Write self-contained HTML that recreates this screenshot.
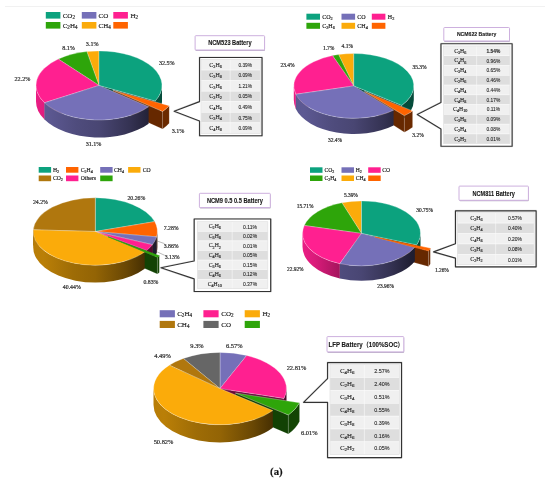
<!DOCTYPE html>
<html><head><meta charset="utf-8"><title>Gas composition pie charts</title>
<style>
html,body{margin:0;padding:0;background:#fff;}
body{width:550px;height:484px;overflow:hidden;}
svg{display:block;}
text{text-anchor:middle;}
.s{font-family:'Liberation Serif',serif;stroke:#333;stroke-width:0.2px;}
.n{font-family:'Liberation Sans','Noto Sans CJK SC',sans-serif;stroke:#333;stroke-width:0.1px;}
</style></head><body>
<svg width="550" height="484" viewBox="0 0 550 484">
<defs>
<linearGradient id="g1" gradientUnits="userSpaceOnUse" x1="36.0" y1="0" x2="162.0" y2="0"><stop offset="0" stop-color="#b87d07"/><stop offset="0.08" stop-color="#ba7f07"/><stop offset="0.32" stop-color="#9e6c06"/><stop offset="0.5" stop-color="#936405"/><stop offset="0.75" stop-color="#694704"/><stop offset="0.92" stop-color="#412c02"/><stop offset="1" stop-color="#382602"/></linearGradient>
<linearGradient id="g2" gradientUnits="userSpaceOnUse" x1="36.0" y1="0" x2="162.0" y2="0"><stop offset="0" stop-color="#248207"/><stop offset="0.08" stop-color="#248408"/><stop offset="0.32" stop-color="#1f7006"/><stop offset="0.5" stop-color="#1c6706"/><stop offset="0.75" stop-color="#144a04"/><stop offset="0.92" stop-color="#0c2e02"/><stop offset="1" stop-color="#0b2702"/></linearGradient>
<linearGradient id="g4" gradientUnits="userSpaceOnUse" x1="36.0" y1="0" x2="162.0" y2="0"><stop offset="0" stop-color="#ea1d84"/><stop offset="0.1" stop-color="#db1b7b"/><stop offset="0.32" stop-color="#a3145c"/><stop offset="0.5" stop-color="#8c114f"/><stop offset="1" stop-color="#4c092b"/></linearGradient>
<linearGradient id="g6" gradientUnits="userSpaceOnUse" x1="36.0" y1="0" x2="162.0" y2="0"><stop offset="0" stop-color="#5c5891"/><stop offset="0.08" stop-color="#5d5993"/><stop offset="0.32" stop-color="#4f4c7d"/><stop offset="0.5" stop-color="#494673"/><stop offset="0.75" stop-color="#343252"/><stop offset="0.92" stop-color="#201f33"/><stop offset="1" stop-color="#1c1a2c"/></linearGradient>
<linearGradient id="g7" gradientUnits="userSpaceOnUse" x1="293.8" y1="0" x2="413.8" y2="0"><stop offset="0" stop-color="#b87d07"/><stop offset="0.08" stop-color="#ba7f07"/><stop offset="0.32" stop-color="#9e6c06"/><stop offset="0.5" stop-color="#936405"/><stop offset="0.75" stop-color="#694704"/><stop offset="0.92" stop-color="#412c02"/><stop offset="1" stop-color="#382602"/></linearGradient>
<linearGradient id="g8" gradientUnits="userSpaceOnUse" x1="293.8" y1="0" x2="413.8" y2="0"><stop offset="0" stop-color="#248207"/><stop offset="0.08" stop-color="#248408"/><stop offset="0.32" stop-color="#1f7006"/><stop offset="0.5" stop-color="#1c6706"/><stop offset="0.75" stop-color="#144a04"/><stop offset="0.92" stop-color="#0c2e02"/><stop offset="1" stop-color="#0b2702"/></linearGradient>
<linearGradient id="g9" gradientUnits="userSpaceOnUse" x1="293.8" y1="0" x2="413.8" y2="0"><stop offset="0" stop-color="#ea1d84"/><stop offset="0.1" stop-color="#db1b7b"/><stop offset="0.32" stop-color="#a3145c"/><stop offset="0.5" stop-color="#8c114f"/><stop offset="1" stop-color="#4c092b"/></linearGradient>
<linearGradient id="g12" gradientUnits="userSpaceOnUse" x1="293.8" y1="0" x2="413.8" y2="0"><stop offset="0" stop-color="#5c5891"/><stop offset="0.08" stop-color="#5d5993"/><stop offset="0.32" stop-color="#4f4c7d"/><stop offset="0.5" stop-color="#494673"/><stop offset="0.75" stop-color="#343252"/><stop offset="0.92" stop-color="#201f33"/><stop offset="1" stop-color="#1c1a2c"/></linearGradient>
<linearGradient id="g14" gradientUnits="userSpaceOnUse" x1="33.2" y1="0" x2="157.4" y2="0"><stop offset="0" stop-color="#8b5e0b"/><stop offset="0.08" stop-color="#8c5f0b"/><stop offset="0.32" stop-color="#775009"/><stop offset="0.5" stop-color="#6e4a08"/><stop offset="0.75" stop-color="#4f3506"/><stop offset="0.92" stop-color="#312103"/><stop offset="1" stop-color="#2a1c03"/></linearGradient>
<linearGradient id="g15" gradientUnits="userSpaceOnUse" x1="33.2" y1="0" x2="157.4" y2="0"><stop offset="0" stop-color="#c94f00"/><stop offset="0.08" stop-color="#cc5000"/><stop offset="0.32" stop-color="#ad4400"/><stop offset="0.5" stop-color="#a03f00"/><stop offset="0.75" stop-color="#722d00"/><stop offset="0.92" stop-color="#471c00"/><stop offset="1" stop-color="#3d1800"/></linearGradient>
<linearGradient id="g16" gradientUnits="userSpaceOnUse" x1="33.2" y1="0" x2="157.4" y2="0"><stop offset="0" stop-color="#5c5891"/><stop offset="0.08" stop-color="#5d5993"/><stop offset="0.32" stop-color="#4f4c7d"/><stop offset="0.5" stop-color="#494673"/><stop offset="0.75" stop-color="#343252"/><stop offset="0.92" stop-color="#201f33"/><stop offset="1" stop-color="#1c1a2c"/></linearGradient>
<linearGradient id="g17" gradientUnits="userSpaceOnUse" x1="33.2" y1="0" x2="157.4" y2="0"><stop offset="0" stop-color="#ea1d84"/><stop offset="0.1" stop-color="#db1b7b"/><stop offset="0.32" stop-color="#a3145c"/><stop offset="0.5" stop-color="#8c114f"/><stop offset="1" stop-color="#4c092b"/></linearGradient>
<linearGradient id="g19" gradientUnits="userSpaceOnUse" x1="33.2" y1="0" x2="157.4" y2="0"><stop offset="0" stop-color="#b87d07"/><stop offset="0.08" stop-color="#ba7f07"/><stop offset="0.32" stop-color="#9e6c06"/><stop offset="0.5" stop-color="#936405"/><stop offset="0.75" stop-color="#694704"/><stop offset="0.92" stop-color="#412c02"/><stop offset="1" stop-color="#382602"/></linearGradient>
<linearGradient id="g20" gradientUnits="userSpaceOnUse" x1="302.5" y1="0" x2="420.5" y2="0"><stop offset="0" stop-color="#b87d07"/><stop offset="0.08" stop-color="#ba7f07"/><stop offset="0.32" stop-color="#9e6c06"/><stop offset="0.5" stop-color="#936405"/><stop offset="0.75" stop-color="#694704"/><stop offset="0.92" stop-color="#412c02"/><stop offset="1" stop-color="#382602"/></linearGradient>
<linearGradient id="g21" gradientUnits="userSpaceOnUse" x1="302.5" y1="0" x2="420.5" y2="0"><stop offset="0" stop-color="#248207"/><stop offset="0.08" stop-color="#248408"/><stop offset="0.32" stop-color="#1f7006"/><stop offset="0.5" stop-color="#1c6706"/><stop offset="0.75" stop-color="#144a04"/><stop offset="0.92" stop-color="#0c2e02"/><stop offset="1" stop-color="#0b2702"/></linearGradient>
<linearGradient id="g24" gradientUnits="userSpaceOnUse" x1="302.5" y1="0" x2="420.5" y2="0"><stop offset="0" stop-color="#ea1d84"/><stop offset="0.1" stop-color="#db1b7b"/><stop offset="0.32" stop-color="#a3145c"/><stop offset="0.5" stop-color="#8c114f"/><stop offset="1" stop-color="#4c092b"/></linearGradient>
<linearGradient id="g25" gradientUnits="userSpaceOnUse" x1="302.5" y1="0" x2="420.5" y2="0"><stop offset="0" stop-color="#5c5891"/><stop offset="0.08" stop-color="#5d5993"/><stop offset="0.32" stop-color="#4f4c7d"/><stop offset="0.5" stop-color="#494673"/><stop offset="0.75" stop-color="#343252"/><stop offset="0.92" stop-color="#201f33"/><stop offset="1" stop-color="#1c1a2c"/></linearGradient>
<linearGradient id="g26" gradientUnits="userSpaceOnUse" x1="153.5" y1="0" x2="286.5" y2="0"><stop offset="0" stop-color="#5c5891"/><stop offset="0.08" stop-color="#5d5993"/><stop offset="0.32" stop-color="#4f4c7d"/><stop offset="0.5" stop-color="#494673"/><stop offset="0.75" stop-color="#343252"/><stop offset="0.92" stop-color="#201f33"/><stop offset="1" stop-color="#1c1a2c"/></linearGradient>
<linearGradient id="g27" gradientUnits="userSpaceOnUse" x1="153.5" y1="0" x2="286.5" y2="0"><stop offset="0" stop-color="#505050"/><stop offset="0.08" stop-color="#515151"/><stop offset="0.32" stop-color="#454545"/><stop offset="0.5" stop-color="#404040"/><stop offset="0.75" stop-color="#2d2d2d"/><stop offset="0.92" stop-color="#1c1c1c"/><stop offset="1" stop-color="#181818"/></linearGradient>
<linearGradient id="g28" gradientUnits="userSpaceOnUse" x1="153.5" y1="0" x2="286.5" y2="0"><stop offset="0" stop-color="#8b5e0b"/><stop offset="0.08" stop-color="#8c5f0b"/><stop offset="0.32" stop-color="#775009"/><stop offset="0.5" stop-color="#6e4a08"/><stop offset="0.75" stop-color="#4f3506"/><stop offset="0.92" stop-color="#312103"/><stop offset="1" stop-color="#2a1c03"/></linearGradient>
<linearGradient id="g29" gradientUnits="userSpaceOnUse" x1="153.5" y1="0" x2="286.5" y2="0"><stop offset="0" stop-color="#ea1d84"/><stop offset="0.1" stop-color="#db1b7b"/><stop offset="0.32" stop-color="#a3145c"/><stop offset="0.5" stop-color="#8c114f"/><stop offset="1" stop-color="#4c092b"/></linearGradient>
<linearGradient id="g31" gradientUnits="userSpaceOnUse" x1="153.5" y1="0" x2="286.5" y2="0"><stop offset="0" stop-color="#b87d07"/><stop offset="0.08" stop-color="#ba7f07"/><stop offset="0.32" stop-color="#9e6c06"/><stop offset="0.5" stop-color="#936405"/><stop offset="0.75" stop-color="#694704"/><stop offset="0.92" stop-color="#412c02"/><stop offset="1" stop-color="#382602"/></linearGradient>
</defs>
<line x1="5" y1="6.5" x2="545" y2="6.5" stroke="#f1f1f1" stroke-width="1"/>
<rect x="45.8" y="12.0" width="14.6" height="6.6" fill="#0ca27e"/>
<text class="s" x="62.7" y="17.6" font-size="7" style="text-anchor:start" fill="#222">CO<tspan dy="1.1" font-size="72%">2</tspan></text>
<rect x="81.8" y="12.0" width="14.6" height="6.6" fill="#7570b8"/>
<text class="s" x="98.5" y="17.6" font-size="7" style="text-anchor:start" fill="#222">CO</text>
<rect x="113.3" y="12.0" width="14.6" height="6.6" fill="#ff2090"/>
<text class="s" x="130.4" y="17.6" font-size="7" style="text-anchor:start" fill="#222">H<tspan dy="1.1" font-size="72%">2</tspan></text>
<rect x="45.8" y="22.0" width="14.6" height="6.6" fill="#2ea50a"/>
<text class="s" x="62.7" y="27.6" font-size="7" style="text-anchor:start" fill="#222">C<tspan dy="1.1" font-size="72%">2</tspan><tspan dy="-1.1">H</tspan><tspan dy="1.1" font-size="72%">4</tspan></text>
<rect x="81.8" y="22.0" width="14.6" height="6.6" fill="#fbab0a"/>
<text class="s" x="98.5" y="27.6" font-size="7" style="text-anchor:start" fill="#222">CH<tspan dy="1.1" font-size="72%">4</tspan></text>
<rect x="113.3" y="22.0" width="14.6" height="6.6" fill="#ff6400"/>
<path d="M99.00 85.45 L86.82 51.55 L86.82 66.08 L99.00 101.45Z" fill="#644404" stroke="rgba(255,255,255,0.35)" stroke-width="0.4" stroke-linejoin="round"/>
<path d="M99.00 85.45 L58.27 59.09 L58.27 73.95 L99.00 101.45Z" fill="#124204" stroke="rgba(255,255,255,0.35)" stroke-width="0.4" stroke-linejoin="round"/>
<path d="M99.00 85.45 L155.19 101.07 L155.19 117.75 L99.00 101.45Z" fill="#044032" stroke="rgba(255,255,255,0.35)" stroke-width="0.4" stroke-linejoin="round"/>
<path d="M162.00 85.45 A63.00 34.55 0 0 1 155.19 101.07 L155.19 117.75 A63.00 36.05 0 0 0 162.00 101.45 Z" fill="#054c3b"/>
<path d="M99.00 85.45 L44.51 102.79 L44.51 119.54 L99.00 101.45Z" fill="#660c39" stroke="rgba(255,255,255,0.35)" stroke-width="0.4" stroke-linejoin="round"/>
<path d="M44.51 102.79 A63.00 34.55 0 0 1 36.00 85.45 L36.00 101.45 A63.00 36.05 0 0 0 44.51 119.54 Z" fill="url(#g4)"/>
<path d="M113.00 90.15 L162.62 111.44 L162.62 129.06 L113.00 106.85Z" fill="#662800" stroke="rgba(255,255,255,0.35)" stroke-width="0.4" stroke-linejoin="round"/>
<path d="M169.19 105.77 A63.00 34.55 0 0 1 162.62 111.44 L162.62 129.06 A63.00 36.05 0 0 0 169.19 123.15 Z" fill="#6b2a00" stroke="rgba(255,255,255,0.25)" stroke-width="0.4"/>
<path d="M148.62 106.74 A63.00 34.55 0 0 1 44.51 102.79 L44.51 119.54 A63.00 36.05 0 0 0 148.62 123.66 Z" fill="url(#g6)"/>
<path d="M99.00 85.45 L86.82 51.55 A63.00 34.55 0 0 1 99.00 50.90 Z" fill="#fbab0a" stroke="rgba(255,255,255,0.55)" stroke-width="0.5" stroke-linejoin="round"/>
<path d="M99.00 85.45 L58.27 59.09 A63.00 34.55 0 0 1 86.82 51.55 Z" fill="#2ea50a" stroke="rgba(255,255,255,0.55)" stroke-width="0.5" stroke-linejoin="round"/>
<path d="M99.00 85.45 L99.00 50.90 A63.00 34.55 0 0 1 155.19 101.07 Z" fill="#0ca27e" stroke="rgba(255,255,255,0.55)" stroke-width="0.5" stroke-linejoin="round"/>
<path d="M99.00 85.45 L44.51 102.79 A63.00 34.55 0 0 1 58.27 59.09 Z" fill="#ff2090" stroke="rgba(255,255,255,0.55)" stroke-width="0.5" stroke-linejoin="round"/>
<path d="M99.00 85.45 L148.62 106.74 A63.00 34.55 0 0 1 44.51 102.79 Z" fill="#7570b8" stroke="rgba(255,255,255,0.55)" stroke-width="0.5" stroke-linejoin="round"/>
<path d="M113.00 90.15 L169.19 105.77 A63.00 34.55 0 0 1 162.62 111.44 Z" fill="#ff6400" stroke="rgba(255,255,255,0.55)" stroke-width="0.5" stroke-linejoin="round"/>
<text class="s" x="166.8" y="64.6" font-size="6.1" fill="#1a1a1a">32.5%</text>
<text class="s" x="92.2" y="46.1" font-size="6.1" fill="#1a1a1a">3.1%</text>
<text class="s" x="68.6" y="49.8" font-size="6.1" fill="#1a1a1a">8.1%</text>
<text class="s" x="22.4" y="81.3" font-size="6.1" fill="#1a1a1a">22.2%</text>
<text class="s" x="93.5" y="146.2" font-size="6.1" fill="#1a1a1a">31.1%</text>
<text class="s" x="178.0" y="133.2" font-size="6.1" fill="#1a1a1a">3.1%</text>
<rect x="195.5" y="36.7" width="69.5" height="14.3" fill="#a79ab6" opacity="0.75" rx="0.8"/>
<rect x="195.1" y="35.7" width="69.5" height="14.3" fill="#fff" stroke="#cdb0de" stroke-width="1" rx="0.8"/>
<text class="n" transform="translate(229.9 45.2) scale(0.860 1)" font-size="6.6" font-weight="bold" fill="#111">NCM523 Battery</text>
<path d="M199.60 57.50 L262.00 57.50 L262.00 135.70 L199.60 135.70 L199.60 121.00 L174.20 111.20 L199.60 101.60Z" fill="none" stroke="#999" stroke-width="2.1" opacity="0.35" stroke-linejoin="round"/>
<path d="M199.60 57.50 L262.00 57.50 L262.00 135.70 L199.60 135.70 L199.60 121.00 L174.20 111.20 L199.60 101.60Z" fill="#fff" stroke="#333" stroke-width="1.15" stroke-linejoin="round"/>
<rect x="201.00" y="59.50" width="59.20" height="10.56" fill="#f0f0f0" stroke="#fafafa" stroke-width="0.5"/>
<text class="s" x="215.6" y="66.5" font-size="5.9" fill="#3a3a3a">C<tspan dy="1.1" font-size="72%">2</tspan><tspan dy="-1.1">H</tspan><tspan dy="1.1" font-size="72%">6</tspan></text>
<text class="n" transform="translate(245.2 66.7) scale(0.880 1)" font-size="5.45" fill="#222">0.39%</text>
<rect x="201.00" y="70.06" width="59.20" height="10.56" fill="#dedede" stroke="#fafafa" stroke-width="0.5"/>
<text class="s" x="215.6" y="77.1" font-size="5.9" fill="#3a3a3a">C<tspan dy="1.1" font-size="72%">3</tspan><tspan dy="-1.1">H</tspan><tspan dy="1.1" font-size="72%">8</tspan></text>
<text class="n" transform="translate(245.2 77.2) scale(0.880 1)" font-size="5.45" fill="#222">0.09%</text>
<rect x="201.00" y="80.61" width="59.20" height="10.56" fill="#f0f0f0" stroke="#fafafa" stroke-width="0.5"/>
<text class="s" x="215.6" y="87.7" font-size="5.9" fill="#3a3a3a">C<tspan dy="1.1" font-size="72%">3</tspan><tspan dy="-1.1">H</tspan><tspan dy="1.1" font-size="72%">6</tspan></text>
<text class="n" transform="translate(245.2 87.8) scale(0.880 1)" font-size="5.45" fill="#222">1.21%</text>
<rect x="201.00" y="91.17" width="59.20" height="10.56" fill="#dedede" stroke="#fafafa" stroke-width="0.5"/>
<text class="s" x="215.6" y="98.2" font-size="5.9" fill="#3a3a3a">C<tspan dy="1.1" font-size="72%">2</tspan><tspan dy="-1.1">H</tspan><tspan dy="1.1" font-size="72%">2</tspan></text>
<text class="n" transform="translate(245.2 98.4) scale(0.880 1)" font-size="5.45" fill="#222">0.05%</text>
<rect x="201.00" y="101.73" width="59.20" height="10.56" fill="#f0f0f0" stroke="#fafafa" stroke-width="0.5"/>
<text class="s" x="215.6" y="108.8" font-size="5.9" fill="#3a3a3a">C<tspan dy="1.1" font-size="72%">4</tspan><tspan dy="-1.1">H</tspan><tspan dy="1.1" font-size="72%">6</tspan></text>
<text class="n" transform="translate(245.2 108.9) scale(0.880 1)" font-size="5.45" fill="#222">0.49%</text>
<rect x="201.00" y="112.29" width="59.20" height="10.56" fill="#dedede" stroke="#fafafa" stroke-width="0.5"/>
<text class="s" x="215.6" y="119.3" font-size="5.9" fill="#3a3a3a">C<tspan dy="1.1" font-size="72%">3</tspan><tspan dy="-1.1">H</tspan><tspan dy="1.1" font-size="72%">4</tspan></text>
<text class="n" transform="translate(245.2 119.5) scale(0.880 1)" font-size="5.45" fill="#222">0.75%</text>
<rect x="201.00" y="122.84" width="59.20" height="10.56" fill="#f0f0f0" stroke="#fafafa" stroke-width="0.5"/>
<text class="s" x="215.6" y="129.9" font-size="5.9" fill="#3a3a3a">C<tspan dy="1.1" font-size="72%">4</tspan><tspan dy="-1.1">H</tspan><tspan dy="1.1" font-size="72%">8</tspan></text>
<text class="n" transform="translate(245.2 130.0) scale(0.880 1)" font-size="5.45" fill="#222">0.09%</text>
<line x1="230.20" y1="59.50" x2="230.20" y2="133.40" stroke="#fafafa" stroke-width="0.6"/>
<rect x="201.00" y="59.50" width="59.20" height="73.90" fill="none" stroke="#cfcfcf" stroke-width="0.4"/>
<rect x="306.4" y="13.7" width="13.6" height="6.0" fill="#0ca27e"/>
<text class="s" x="322.2" y="18.7" font-size="6" style="text-anchor:start" fill="#222">CO<tspan dy="1.1" font-size="72%">2</tspan></text>
<rect x="341.5" y="13.7" width="13.6" height="6.0" fill="#7570b8"/>
<text class="s" x="357.3" y="18.7" font-size="6" style="text-anchor:start" fill="#222">CO</text>
<rect x="371.8" y="13.7" width="13.6" height="6.0" fill="#ff2090"/>
<text class="s" x="387.8" y="18.7" font-size="6" style="text-anchor:start" fill="#222">H<tspan dy="1.1" font-size="72%">2</tspan></text>
<rect x="306.4" y="22.8" width="13.6" height="6.0" fill="#2ea50a"/>
<text class="s" x="322.2" y="27.8" font-size="6" style="text-anchor:start" fill="#222">C<tspan dy="1.1" font-size="72%">3</tspan><tspan dy="-1.1">H</tspan><tspan dy="1.1" font-size="72%">6</tspan></text>
<rect x="341.5" y="22.8" width="13.6" height="6.0" fill="#fbab0a"/>
<text class="s" x="357.3" y="27.8" font-size="6" style="text-anchor:start" fill="#222">CH<tspan dy="1.1" font-size="72%">4</tspan></text>
<rect x="371.8" y="22.8" width="13.6" height="6.0" fill="#ff6400"/>
<path d="M353.80 85.90 L338.53 54.57 L338.53 67.32 L353.80 100.10Z" fill="#644404" stroke="rgba(255,255,255,0.35)" stroke-width="0.4" stroke-linejoin="round"/>
<path d="M353.80 85.90 L332.44 55.62 L332.44 68.42 L353.80 100.10Z" fill="#124204" stroke="rgba(255,255,255,0.35)" stroke-width="0.4" stroke-linejoin="round"/>
<path d="M353.80 85.90 L295.85 94.29 L295.85 108.88 L353.80 100.10Z" fill="#660c39" stroke="rgba(255,255,255,0.35)" stroke-width="0.4" stroke-linejoin="round"/>
<path d="M295.85 94.29 A60.00 32.40 0 0 1 293.80 85.90 L293.80 100.10 A60.00 33.90 0 0 0 295.85 108.88 Z" fill="url(#g9)"/>
<path d="M353.80 85.90 L401.75 105.38 L401.75 120.48 L353.80 100.10Z" fill="#044032" stroke="rgba(255,255,255,0.35)" stroke-width="0.4" stroke-linejoin="round"/>
<path d="M413.80 85.90 A60.00 32.40 0 0 1 401.75 105.38 L401.75 120.48 A60.00 33.90 0 0 0 413.80 100.10 Z" fill="#054c3b"/>
<path d="M364.60 91.40 L404.39 115.65 L404.39 132.17 L364.60 106.80Z" fill="#662800" stroke="rgba(255,255,255,0.35)" stroke-width="0.4" stroke-linejoin="round"/>
<path d="M412.55 110.88 A60.00 32.40 0 0 1 404.39 115.65 L404.39 132.17 A60.00 33.90 0 0 0 412.55 127.18 Z" fill="#6b2a00" stroke="rgba(255,255,255,0.25)" stroke-width="0.4"/>
<path d="M393.59 110.15 A60.00 32.40 0 0 1 295.85 94.29 L295.85 108.88 A60.00 33.90 0 0 0 393.59 125.47 Z" fill="url(#g12)"/>
<path d="M353.80 85.90 L338.53 54.57 A60.00 32.40 0 0 1 353.80 53.50 Z" fill="#fbab0a" stroke="rgba(255,255,255,0.55)" stroke-width="0.5" stroke-linejoin="round"/>
<path d="M353.80 85.90 L332.44 55.62 A60.00 32.40 0 0 1 338.53 54.57 Z" fill="#2ea50a" stroke="rgba(255,255,255,0.55)" stroke-width="0.5" stroke-linejoin="round"/>
<path d="M353.80 85.90 L295.85 94.29 A60.00 32.40 0 0 1 332.44 55.62 Z" fill="#ff2090" stroke="rgba(255,255,255,0.55)" stroke-width="0.5" stroke-linejoin="round"/>
<path d="M353.80 85.90 L353.80 53.50 A60.00 32.40 0 0 1 401.75 105.38 Z" fill="#0ca27e" stroke="rgba(255,255,255,0.55)" stroke-width="0.5" stroke-linejoin="round"/>
<path d="M353.80 85.90 L393.59 110.15 A60.00 32.40 0 0 1 295.85 94.29 Z" fill="#7570b8" stroke="rgba(255,255,255,0.55)" stroke-width="0.5" stroke-linejoin="round"/>
<path d="M364.60 91.40 L412.55 110.88 A60.00 32.40 0 0 1 404.39 115.65 Z" fill="#ff6400" stroke="rgba(255,255,255,0.55)" stroke-width="0.5" stroke-linejoin="round"/>
<text class="s" x="328.7" y="49.9" font-size="5.5" fill="#1a1a1a">1.7%</text>
<text class="s" x="347.3" y="48.2" font-size="5.5" fill="#1a1a1a">4.1%</text>
<text class="s" x="419.5" y="68.8" font-size="5.5" fill="#1a1a1a">35.3%</text>
<text class="s" x="418.0" y="136.9" font-size="5.5" fill="#1a1a1a">3.2%</text>
<text class="s" x="335.1" y="142.2" font-size="5.5" fill="#1a1a1a">32.4%</text>
<text class="s" x="287.5" y="67.3" font-size="5.5" fill="#1a1a1a">23.4%</text>
<rect x="444.2" y="28.5" width="65.7" height="13.5" fill="#a79ab6" opacity="0.75" rx="0.8"/>
<rect x="443.8" y="27.5" width="65.7" height="13.5" fill="#fff" stroke="#cdb0de" stroke-width="1" rx="0.8"/>
<text class="n" transform="translate(476.6 36.4) scale(0.860 1)" font-size="6" font-weight="bold" fill="#111">NCM622 Battery</text>
<path d="M441.00 43.70 L512.10 43.70 L512.10 146.20 L441.00 146.20 L441.00 128.90 L417.30 114.50 L441.00 102.40Z" fill="none" stroke="#999" stroke-width="2.1" opacity="0.35" stroke-linejoin="round"/>
<path d="M441.00 43.70 L512.10 43.70 L512.10 146.20 L441.00 146.20 L441.00 128.90 L417.30 114.50 L441.00 102.40Z" fill="#fff" stroke="#333" stroke-width="1.15" stroke-linejoin="round"/>
<rect x="443.70" y="46.00" width="66.30" height="9.77" fill="#f0f0f0" stroke="#fafafa" stroke-width="0.5"/>
<text class="s" x="460.2" y="52.6" font-size="5.75" fill="#3a3a3a">C<tspan dy="1.1" font-size="72%">3</tspan><tspan dy="-1.1">H</tspan><tspan dy="1.1" font-size="72%">6</tspan></text>
<text class="n" transform="translate(493.4 52.8) scale(0.880 1)" font-size="5.5" font-weight="bold" fill="#222">1.54%</text>
<rect x="443.70" y="55.77" width="66.30" height="9.77" fill="#dedede" stroke="#fafafa" stroke-width="0.5"/>
<text class="s" x="460.2" y="62.4" font-size="5.75" fill="#3a3a3a">C<tspan dy="1.1" font-size="72%">4</tspan><tspan dy="-1.1">H</tspan><tspan dy="1.1" font-size="72%">6</tspan></text>
<text class="n" transform="translate(493.4 62.6) scale(0.880 1)" font-size="5.5" fill="#222">0.96%</text>
<rect x="443.70" y="65.54" width="66.30" height="9.77" fill="#f0f0f0" stroke="#fafafa" stroke-width="0.5"/>
<text class="s" x="460.2" y="72.1" font-size="5.75" fill="#3a3a3a">C<tspan dy="1.1" font-size="72%">3</tspan><tspan dy="-1.1">H</tspan><tspan dy="1.1" font-size="72%">4</tspan></text>
<text class="n" transform="translate(493.4 72.3) scale(0.880 1)" font-size="5.5" fill="#222">0.65%</text>
<rect x="443.70" y="75.31" width="66.30" height="9.77" fill="#dedede" stroke="#fafafa" stroke-width="0.5"/>
<text class="s" x="460.2" y="81.9" font-size="5.75" fill="#3a3a3a">C<tspan dy="1.1" font-size="72%">2</tspan><tspan dy="-1.1">H</tspan><tspan dy="1.1" font-size="72%">6</tspan></text>
<text class="n" transform="translate(493.4 82.1) scale(0.880 1)" font-size="5.5" fill="#222">0.46%</text>
<rect x="443.70" y="85.08" width="66.30" height="9.77" fill="#f0f0f0" stroke="#fafafa" stroke-width="0.5"/>
<text class="s" x="460.2" y="91.7" font-size="5.75" fill="#3a3a3a">C<tspan dy="1.1" font-size="72%">4</tspan><tspan dy="-1.1">H</tspan><tspan dy="1.1" font-size="72%">4</tspan></text>
<text class="n" transform="translate(493.4 91.9) scale(0.880 1)" font-size="5.5" fill="#222">0.44%</text>
<rect x="443.70" y="94.85" width="66.30" height="9.77" fill="#dedede" stroke="#fafafa" stroke-width="0.5"/>
<text class="s" x="460.2" y="101.5" font-size="5.75" fill="#3a3a3a">C<tspan dy="1.1" font-size="72%">4</tspan><tspan dy="-1.1">H</tspan><tspan dy="1.1" font-size="72%">8</tspan></text>
<text class="n" transform="translate(493.4 101.7) scale(0.880 1)" font-size="5.5" fill="#222">0.17%</text>
<rect x="443.70" y="104.62" width="66.30" height="9.77" fill="#f0f0f0" stroke="#fafafa" stroke-width="0.5"/>
<text class="s" x="460.2" y="111.2" font-size="5.75" fill="#3a3a3a">C<tspan dy="1.1" font-size="72%">4</tspan><tspan dy="-1.1">H</tspan><tspan dy="1.1" font-size="72%">10</tspan></text>
<text class="n" transform="translate(493.4 111.4) scale(0.880 1)" font-size="5.5" fill="#222">0.11%</text>
<rect x="443.70" y="114.39" width="66.30" height="9.77" fill="#dedede" stroke="#fafafa" stroke-width="0.5"/>
<text class="s" x="460.2" y="121.0" font-size="5.75" fill="#3a3a3a">C<tspan dy="1.1" font-size="72%">3</tspan><tspan dy="-1.1">H</tspan><tspan dy="1.1" font-size="72%">8</tspan></text>
<text class="n" transform="translate(493.4 121.2) scale(0.880 1)" font-size="5.5" fill="#222">0.09%</text>
<rect x="443.70" y="124.16" width="66.30" height="9.77" fill="#f0f0f0" stroke="#fafafa" stroke-width="0.5"/>
<text class="s" x="460.2" y="130.8" font-size="5.75" fill="#3a3a3a">C<tspan dy="1.1" font-size="72%">2</tspan><tspan dy="-1.1">H</tspan><tspan dy="1.1" font-size="72%">4</tspan></text>
<text class="n" transform="translate(493.4 131.0) scale(0.880 1)" font-size="5.5" fill="#222">0.08%</text>
<rect x="443.70" y="133.93" width="66.30" height="9.77" fill="#dedede" stroke="#fafafa" stroke-width="0.5"/>
<text class="s" x="460.2" y="140.5" font-size="5.75" fill="#3a3a3a">C<tspan dy="1.1" font-size="72%">2</tspan><tspan dy="-1.1">H</tspan><tspan dy="1.1" font-size="72%">2</tspan></text>
<text class="n" transform="translate(493.4 140.7) scale(0.880 1)" font-size="5.5" fill="#222">0.01%</text>
<line x1="476.70" y1="46.00" x2="476.70" y2="143.70" stroke="#fafafa" stroke-width="0.6"/>
<rect x="443.70" y="46.00" width="66.30" height="97.70" fill="none" stroke="#cfcfcf" stroke-width="0.4"/>
<rect x="38.7" y="167.0" width="12.4" height="5.7" fill="#0ca27e"/>
<text class="s" x="52.9" y="171.7" font-size="5.7" style="text-anchor:start" fill="#222">H<tspan dy="1.1" font-size="72%">2</tspan></text>
<rect x="66.0" y="167.0" width="12.4" height="5.7" fill="#ff6400"/>
<text class="s" x="80.7" y="171.7" font-size="5.7" style="text-anchor:start" fill="#222">C<tspan dy="1.1" font-size="72%">2</tspan><tspan dy="-1.1">H</tspan><tspan dy="1.1" font-size="72%">4</tspan></text>
<rect x="100.2" y="167.0" width="12.4" height="5.7" fill="#7570b8"/>
<text class="s" x="114.0" y="171.7" font-size="5.7" style="text-anchor:start" fill="#222">CH<tspan dy="1.1" font-size="72%">4</tspan></text>
<rect x="128.1" y="167.0" width="12.4" height="5.7" fill="#fbab0a"/>
<text class="s" x="142.8" y="171.7" font-size="5.7" style="text-anchor:start" fill="#222">CO</text>
<rect x="38.7" y="175.5" width="12.4" height="5.7" fill="#b0770e"/>
<text class="s" x="52.9" y="180.2" font-size="5.7" style="text-anchor:start" fill="#222">CO<tspan dy="1.1" font-size="72%">2</tspan></text>
<rect x="66.0" y="175.5" width="12.4" height="5.7" fill="#ff2090"/>
<text class="s" x="80.7" y="180.2" font-size="5.7" style="text-anchor:start" fill="#222">Others</text>
<rect x="100.2" y="175.5" width="12.4" height="5.7" fill="#2ea50a"/>
<path d="M95.30 231.50 L154.67 221.61 L154.67 236.97 L95.30 247.30Z" fill="#044032" stroke="rgba(255,255,255,0.35)" stroke-width="0.4" stroke-linejoin="round"/>
<path d="M95.30 231.50 L33.28 229.81 L33.28 245.53 L95.30 247.30Z" fill="#462f05" stroke="rgba(255,255,255,0.35)" stroke-width="0.4" stroke-linejoin="round"/>
<path d="M95.30 231.50 L156.61 236.86 L156.61 252.89 L95.30 247.30Z" fill="#662800" stroke="rgba(255,255,255,0.35)" stroke-width="0.4" stroke-linejoin="round"/>
<path d="M157.40 231.50 A62.10 33.70 0 0 1 156.61 236.86 L156.61 252.89 A62.10 35.20 0 0 0 157.40 247.30 Z" fill="url(#g15)"/>
<path d="M95.30 231.50 L152.45 244.69 L152.45 261.08 L95.30 247.30Z" fill="#2e2c49" stroke="rgba(255,255,255,0.35)" stroke-width="0.4" stroke-linejoin="round"/>
<path d="M156.61 236.86 A62.10 33.70 0 0 1 152.45 244.69 L152.45 261.08 A62.10 35.20 0 0 0 156.61 252.89 Z" fill="url(#g16)"/>
<path d="M95.30 231.50 L146.60 250.49 L146.60 267.14 L95.30 247.30Z" fill="#660c39" stroke="rgba(255,255,255,0.35)" stroke-width="0.4" stroke-linejoin="round"/>
<path d="M152.45 244.69 A62.10 33.70 0 0 1 146.60 250.49 L146.60 267.14 A62.10 35.20 0 0 0 152.45 261.08 Z" fill="url(#g17)"/>
<path d="M108.00 236.80 L157.40 257.22 L157.40 273.93 L108.00 252.60Z" fill="#124204" stroke="rgba(255,255,255,0.35)" stroke-width="0.4" stroke-linejoin="round"/>
<path d="M159.30 255.79 A62.10 33.70 0 0 1 157.40 257.22 L157.40 273.93 A62.10 35.20 0 0 0 159.30 272.44 Z" fill="#134504" stroke="rgba(255,255,255,0.25)" stroke-width="0.4"/>
<path d="M144.70 251.92 A62.10 33.70 0 0 1 33.20 231.50 L33.20 247.30 A62.10 35.20 0 0 0 144.70 268.63 Z" fill="url(#g19)"/>
<path d="M95.30 231.50 L95.30 197.80 A62.10 33.70 0 0 1 154.67 221.61 Z" fill="#0ca27e" stroke="rgba(255,255,255,0.55)" stroke-width="0.5" stroke-linejoin="round"/>
<path d="M95.30 231.50 L33.28 229.81 A62.10 33.70 0 0 1 95.30 197.80 Z" fill="#b0770e" stroke="rgba(255,255,255,0.55)" stroke-width="0.5" stroke-linejoin="round"/>
<path d="M95.30 231.50 L154.67 221.61 A62.10 33.70 0 0 1 156.61 236.86 Z" fill="#ff6400" stroke="rgba(255,255,255,0.55)" stroke-width="0.5" stroke-linejoin="round"/>
<path d="M95.30 231.50 L156.61 236.86 A62.10 33.70 0 0 1 152.45 244.69 Z" fill="#7570b8" stroke="rgba(255,255,255,0.55)" stroke-width="0.5" stroke-linejoin="round"/>
<path d="M95.30 231.50 L152.45 244.69 A62.10 33.70 0 0 1 146.60 250.49 Z" fill="#ff2090" stroke="rgba(255,255,255,0.55)" stroke-width="0.5" stroke-linejoin="round"/>
<path d="M95.30 231.50 L144.70 251.92 A62.10 33.70 0 0 1 33.28 229.81 Z" fill="#fbab0a" stroke="rgba(255,255,255,0.55)" stroke-width="0.5" stroke-linejoin="round"/>
<path d="M108.00 236.80 L159.30 255.79 A62.10 33.70 0 0 1 157.40 257.22 Z" fill="#2ea50a" stroke="#2ea50a" stroke-width="0.55" stroke-linejoin="round"/>
<path d="M157 241 L164.5 243.6 M157 251.8 L164.8 255.4" stroke="#777" stroke-width="0.5" fill="none"/>
<text class="s" x="40.4" y="203.5" font-size="5.8" fill="#1a1a1a">24.2%</text>
<text class="s" x="136.4" y="200.0" font-size="5.8" fill="#1a1a1a">20.26%</text>
<text class="s" x="171.2" y="230.2" font-size="5.8" fill="#1a1a1a">7.28%</text>
<text class="s" x="171.2" y="247.9" font-size="5.8" fill="#1a1a1a">3.86%</text>
<text class="s" x="172.2" y="259.1" font-size="5.8" fill="#1a1a1a">3.13%</text>
<text class="s" x="150.9" y="283.5" font-size="5.8" fill="#1a1a1a">0.83%</text>
<text class="s" x="71.8" y="289.4" font-size="5.8" fill="#1a1a1a">40.44%</text>
<rect x="199.8" y="194.3" width="70.9" height="14.3" fill="#a79ab6" opacity="0.75" rx="0.8"/>
<rect x="199.4" y="193.3" width="70.9" height="14.3" fill="#fff" stroke="#cdb0de" stroke-width="1" rx="0.8"/>
<text class="n" transform="translate(234.9 202.8) scale(0.860 1)" font-size="6.6" font-weight="bold" fill="#111">NCM9 0.5 0.5 Battery</text>
<path d="M194.20 219.00 L270.70 219.00 L270.70 291.50 L194.20 291.50 L194.20 278.90 L161.00 267.70 L194.20 261.00Z" fill="none" stroke="#999" stroke-width="2.1" opacity="0.35" stroke-linejoin="round"/>
<path d="M194.20 219.00 L270.70 219.00 L270.70 291.50 L194.20 291.50 L194.20 278.90 L161.00 267.70 L194.20 261.00Z" fill="#fff" stroke="#333" stroke-width="1.15" stroke-linejoin="round"/>
<rect x="197.30" y="221.80" width="70.60" height="9.57" fill="#f0f0f0" stroke="#fafafa" stroke-width="0.5"/>
<text class="s" x="214.8" y="228.3" font-size="5.7" fill="#3a3a3a">C<tspan dy="1.1" font-size="72%">2</tspan><tspan dy="-1.1">H</tspan><tspan dy="1.1" font-size="72%">6</tspan></text>
<text class="n" transform="translate(250.0 228.6) scale(0.880 1)" font-size="5.7" fill="#222">0.11%</text>
<rect x="197.30" y="231.37" width="70.60" height="9.57" fill="#dedede" stroke="#fafafa" stroke-width="0.5"/>
<text class="s" x="214.8" y="237.9" font-size="5.7" fill="#3a3a3a">C<tspan dy="1.1" font-size="72%">3</tspan><tspan dy="-1.1">H</tspan><tspan dy="1.1" font-size="72%">8</tspan></text>
<text class="n" transform="translate(250.0 238.2) scale(0.880 1)" font-size="5.7" fill="#222">0.02%</text>
<rect x="197.30" y="240.94" width="70.60" height="9.57" fill="#f0f0f0" stroke="#fafafa" stroke-width="0.5"/>
<text class="s" x="214.8" y="247.4" font-size="5.7" fill="#3a3a3a">C<tspan dy="1.1" font-size="72%">2</tspan><tspan dy="-1.1">H</tspan><tspan dy="1.1" font-size="72%">2</tspan></text>
<text class="n" transform="translate(250.0 247.7) scale(0.880 1)" font-size="5.7" fill="#222">0.01%</text>
<rect x="197.30" y="250.51" width="70.60" height="9.57" fill="#dedede" stroke="#fafafa" stroke-width="0.5"/>
<text class="s" x="214.8" y="257.0" font-size="5.7" fill="#3a3a3a">C<tspan dy="1.1" font-size="72%">4</tspan><tspan dy="-1.1">H</tspan><tspan dy="1.1" font-size="72%">8</tspan></text>
<text class="n" transform="translate(250.0 257.3) scale(0.880 1)" font-size="5.7" fill="#222">0.05%</text>
<rect x="197.30" y="260.09" width="70.60" height="9.57" fill="#f0f0f0" stroke="#fafafa" stroke-width="0.5"/>
<text class="s" x="214.8" y="266.6" font-size="5.7" fill="#3a3a3a">C<tspan dy="1.1" font-size="72%">3</tspan><tspan dy="-1.1">H</tspan><tspan dy="1.1" font-size="72%">6</tspan></text>
<text class="n" transform="translate(250.0 266.9) scale(0.880 1)" font-size="5.7" fill="#222">0.15%</text>
<rect x="197.30" y="269.66" width="70.60" height="9.57" fill="#dedede" stroke="#fafafa" stroke-width="0.5"/>
<text class="s" x="214.8" y="276.2" font-size="5.7" fill="#3a3a3a">C<tspan dy="1.1" font-size="72%">4</tspan><tspan dy="-1.1">H</tspan><tspan dy="1.1" font-size="72%">6</tspan></text>
<text class="n" transform="translate(250.0 276.4) scale(0.880 1)" font-size="5.7" fill="#222">0.12%</text>
<rect x="197.30" y="279.23" width="70.60" height="9.57" fill="#f0f0f0" stroke="#fafafa" stroke-width="0.5"/>
<text class="s" x="214.8" y="285.7" font-size="5.7" fill="#3a3a3a">C<tspan dy="1.1" font-size="72%">4</tspan><tspan dy="-1.1">H</tspan><tspan dy="1.1" font-size="72%">10</tspan></text>
<text class="n" transform="translate(250.0 286.0) scale(0.880 1)" font-size="5.7" fill="#222">0.37%</text>
<line x1="232.20" y1="221.80" x2="232.20" y2="288.80" stroke="#fafafa" stroke-width="0.6"/>
<rect x="197.30" y="221.80" width="70.60" height="67.00" fill="none" stroke="#cfcfcf" stroke-width="0.4"/>
<rect x="310.0" y="167.3" width="12.5" height="5.5" fill="#0ca27e"/>
<text class="s" x="324.5" y="171.9" font-size="5.6" style="text-anchor:start" fill="#222">CO<tspan dy="1.1" font-size="72%">2</tspan></text>
<rect x="341.5" y="167.3" width="12.5" height="5.5" fill="#7570b8"/>
<text class="s" x="355.8" y="171.9" font-size="5.6" style="text-anchor:start" fill="#222">H<tspan dy="1.1" font-size="72%">2</tspan></text>
<rect x="368.2" y="167.3" width="12.5" height="5.5" fill="#ff2090"/>
<text class="s" x="382.2" y="171.9" font-size="5.6" style="text-anchor:start" fill="#222">CO</text>
<rect x="310.0" y="175.5" width="12.5" height="5.5" fill="#2ea50a"/>
<text class="s" x="324.5" y="180.1" font-size="5.6" style="text-anchor:start" fill="#222">C<tspan dy="1.1" font-size="72%">2</tspan><tspan dy="-1.1">H</tspan><tspan dy="1.1" font-size="72%">4</tspan></text>
<rect x="341.5" y="175.5" width="12.5" height="5.5" fill="#fbab0a"/>
<text class="s" x="355.8" y="180.1" font-size="5.6" style="text-anchor:start" fill="#222">CH<tspan dy="1.1" font-size="72%">4</tspan></text>
<rect x="368.2" y="175.5" width="12.5" height="5.5" fill="#ff6400"/>
<path d="M361.50 233.40 L341.90 202.75 L341.90 214.73 L361.50 246.80Z" fill="#644404" stroke="rgba(255,255,255,0.35)" stroke-width="0.4" stroke-linejoin="round"/>
<path d="M361.50 233.40 L304.26 225.52 L304.26 238.56 L361.50 246.80Z" fill="#124204" stroke="rgba(255,255,255,0.35)" stroke-width="0.4" stroke-linejoin="round"/>
<path d="M361.50 233.40 L416.69 244.89 L416.69 258.82 L361.50 246.80Z" fill="#044032" stroke="rgba(255,255,255,0.35)" stroke-width="0.4" stroke-linejoin="round"/>
<path d="M420.50 233.40 A59.00 32.50 0 0 1 416.69 244.89 L416.69 258.82 A59.00 34.00 0 0 0 420.50 246.80 Z" fill="#054c3b"/>
<path d="M375.10 237.00 L428.46 250.86 L428.46 266.40 L375.10 251.90Z" fill="#662800" stroke="rgba(255,255,255,0.35)" stroke-width="0.4" stroke-linejoin="round"/>
<path d="M430.29 248.49 A59.00 32.50 0 0 1 428.46 250.86 L428.46 266.40 A59.00 34.00 0 0 0 430.29 263.92 Z" fill="#6b2a00" stroke="rgba(255,255,255,0.25)" stroke-width="0.4"/>
<path d="M361.50 233.40 L339.86 263.64 L339.86 278.43 L361.50 246.80Z" fill="#660c39" stroke="rgba(255,255,255,0.35)" stroke-width="0.4" stroke-linejoin="round"/>
<path d="M339.86 263.64 A59.00 32.50 0 0 1 302.50 233.40 L302.50 246.80 A59.00 34.00 0 0 0 339.86 278.43 Z" fill="url(#g24)"/>
<path d="M414.86 247.26 A59.00 32.50 0 0 1 339.86 263.64 L339.86 278.43 A59.00 34.00 0 0 0 414.86 261.30 Z" fill="url(#g25)"/>
<path d="M361.50 233.40 L341.90 202.75 A59.00 32.50 0 0 1 361.50 200.90 Z" fill="#fbab0a" stroke="rgba(255,255,255,0.55)" stroke-width="0.5" stroke-linejoin="round"/>
<path d="M361.50 233.40 L304.26 225.52 A59.00 32.50 0 0 1 341.90 202.75 Z" fill="#2ea50a" stroke="rgba(255,255,255,0.55)" stroke-width="0.5" stroke-linejoin="round"/>
<path d="M361.50 233.40 L361.50 200.90 A59.00 32.50 0 0 1 416.69 244.89 Z" fill="#0ca27e" stroke="rgba(255,255,255,0.55)" stroke-width="0.5" stroke-linejoin="round"/>
<path d="M361.50 233.40 L339.86 263.64 A59.00 32.50 0 0 1 304.26 225.52 Z" fill="#ff2090" stroke="rgba(255,255,255,0.55)" stroke-width="0.5" stroke-linejoin="round"/>
<path d="M361.50 233.40 L414.86 247.26 A59.00 32.50 0 0 1 339.86 263.64 Z" fill="#7570b8" stroke="rgba(255,255,255,0.55)" stroke-width="0.5" stroke-linejoin="round"/>
<path d="M375.10 237.00 L430.29 248.49 A59.00 32.50 0 0 1 428.46 250.86 Z" fill="#ff6400" stroke="#ff6400" stroke-width="0.55" stroke-linejoin="round"/>
<text class="s" x="295.3" y="270.8" font-size="5.4" fill="#1a1a1a">22.92%</text>
<text class="s" x="385.6" y="288.2" font-size="5.4" fill="#1a1a1a">23.96%</text>
<text class="s" x="441.9" y="271.8" font-size="5.4" fill="#1a1a1a">1.26%</text>
<text class="s" x="424.6" y="211.9" font-size="5.4" fill="#1a1a1a">30.75%</text>
<text class="s" x="350.9" y="196.5" font-size="5.4" fill="#1a1a1a">5.39%</text>
<text class="s" x="305.1" y="208.0" font-size="5.4" fill="#1a1a1a">15.71%</text>
<rect x="459.4" y="187.1" width="69.4" height="14.2" fill="#a79ab6" opacity="0.75" rx="0.8"/>
<rect x="459.0" y="186.1" width="69.4" height="14.2" fill="#fff" stroke="#cdb0de" stroke-width="1" rx="0.8"/>
<text class="n" transform="translate(493.7 195.5) scale(0.860 1)" font-size="6.5" font-weight="bold" fill="#111">NCM811 Battery</text>
<path d="M455.50 210.90 L536.10 210.90 L536.10 266.80 L455.50 266.80 L455.50 258.10 L433.60 251.90 L455.50 243.70Z" fill="none" stroke="#999" stroke-width="2.1" opacity="0.35" stroke-linejoin="round"/>
<path d="M455.50 210.90 L536.10 210.90 L536.10 266.80 L455.50 266.80 L455.50 258.10 L433.60 251.90 L455.50 243.70Z" fill="#fff" stroke="#333" stroke-width="1.15" stroke-linejoin="round"/>
<rect x="457.20" y="212.70" width="76.90" height="10.42" fill="#f0f0f0" stroke="#fafafa" stroke-width="0.5"/>
<text class="s" x="476.4" y="219.7" font-size="5.8" fill="#3a3a3a">C<tspan dy="1.1" font-size="72%">2</tspan><tspan dy="-1.1">H</tspan><tspan dy="1.1" font-size="72%">6</tspan></text>
<text class="n" transform="translate(514.9 219.9) scale(0.880 1)" font-size="5.6" fill="#222">0.57%</text>
<rect x="457.20" y="223.12" width="76.90" height="10.42" fill="#dedede" stroke="#fafafa" stroke-width="0.5"/>
<text class="s" x="476.4" y="230.1" font-size="5.8" fill="#3a3a3a">C<tspan dy="1.1" font-size="72%">3</tspan><tspan dy="-1.1">H</tspan><tspan dy="1.1" font-size="72%">4</tspan></text>
<text class="n" transform="translate(514.9 230.3) scale(0.880 1)" font-size="5.6" fill="#222">0.40%</text>
<rect x="457.20" y="233.54" width="76.90" height="10.42" fill="#f0f0f0" stroke="#fafafa" stroke-width="0.5"/>
<text class="s" x="476.4" y="240.5" font-size="5.8" fill="#3a3a3a">C<tspan dy="1.1" font-size="72%">4</tspan><tspan dy="-1.1">H</tspan><tspan dy="1.1" font-size="72%">8</tspan></text>
<text class="n" transform="translate(514.9 240.7) scale(0.880 1)" font-size="5.6" fill="#222">0.20%</text>
<rect x="457.20" y="243.96" width="76.90" height="10.42" fill="#dedede" stroke="#fafafa" stroke-width="0.5"/>
<text class="s" x="476.4" y="250.9" font-size="5.8" fill="#3a3a3a">C<tspan dy="1.1" font-size="72%">3</tspan><tspan dy="-1.1">H</tspan><tspan dy="1.1" font-size="72%">8</tspan></text>
<text class="n" transform="translate(514.9 251.1) scale(0.880 1)" font-size="5.6" fill="#222">0.08%</text>
<rect x="457.20" y="254.38" width="76.90" height="10.42" fill="#f0f0f0" stroke="#fafafa" stroke-width="0.5"/>
<text class="s" x="476.4" y="261.3" font-size="5.8" fill="#3a3a3a">C<tspan dy="1.1" font-size="72%">2</tspan><tspan dy="-1.1">H</tspan><tspan dy="1.1" font-size="72%">2</tspan></text>
<text class="n" transform="translate(514.9 261.6) scale(0.880 1)" font-size="5.6" fill="#222">0.01%</text>
<line x1="495.70" y1="212.70" x2="495.70" y2="264.80" stroke="#fafafa" stroke-width="0.6"/>
<rect x="457.20" y="212.70" width="76.90" height="52.10" fill="none" stroke="#cfcfcf" stroke-width="0.4"/>
<rect x="159.7" y="310.2" width="15.2" height="7.1" fill="#7570b8"/>
<text class="s" x="177.2" y="316.1" font-size="7" style="text-anchor:start" fill="#222">C<tspan dy="1.1" font-size="72%">2</tspan><tspan dy="-1.1">H</tspan><tspan dy="1.1" font-size="72%">4</tspan></text>
<rect x="203.4" y="310.2" width="15.2" height="7.1" fill="#ff2090"/>
<text class="s" x="221.3" y="316.1" font-size="7" style="text-anchor:start" fill="#222">CO<tspan dy="1.1" font-size="72%">2</tspan></text>
<rect x="244.7" y="310.2" width="15.2" height="7.1" fill="#fbab0a"/>
<text class="s" x="262.5" y="316.1" font-size="7" style="text-anchor:start" fill="#222">H<tspan dy="1.1" font-size="72%">2</tspan></text>
<rect x="159.7" y="320.9" width="15.2" height="7.1" fill="#b0770e"/>
<text class="s" x="177.2" y="326.8" font-size="7" style="text-anchor:start" fill="#222">CH<tspan dy="1.1" font-size="72%">4</tspan></text>
<rect x="203.4" y="320.9" width="15.2" height="7.1" fill="#666666"/>
<text class="s" x="221.3" y="326.8" font-size="7" style="text-anchor:start" fill="#222">CO</text>
<rect x="244.7" y="320.9" width="15.2" height="7.1" fill="#2ea50a"/>
<path d="M220.00 388.60 L246.68 355.44 L246.68 370.27 L220.00 404.80Z" fill="#2e2c49" stroke="rgba(255,255,255,0.35)" stroke-width="0.4" stroke-linejoin="round"/>
<path d="M220.00 388.60 L183.32 358.41 L183.32 373.36 L220.00 404.80Z" fill="#282828" stroke="rgba(255,255,255,0.35)" stroke-width="0.4" stroke-linejoin="round"/>
<path d="M220.00 388.60 L169.32 365.16 L169.32 380.39 L220.00 404.80Z" fill="#462f05" stroke="rgba(255,255,255,0.35)" stroke-width="0.4" stroke-linejoin="round"/>
<path d="M220.00 388.60 L284.00 398.44 L284.00 415.04 L220.00 404.80Z" fill="#660c39" stroke="rgba(255,255,255,0.35)" stroke-width="0.4" stroke-linejoin="round"/>
<path d="M286.50 388.60 A66.50 36.20 0 0 1 284.00 398.44 L284.00 415.04 A66.50 37.70 0 0 0 286.50 404.80 Z" fill="url(#g29)"/>
<path d="M235.50 393.00 L288.33 414.99 L288.33 434.10 L235.50 411.20Z" fill="#124204" stroke="rgba(255,255,255,0.35)" stroke-width="0.4" stroke-linejoin="round"/>
<path d="M299.50 402.84 A66.50 36.20 0 0 1 288.33 414.99 L288.33 434.10 A66.50 37.70 0 0 0 299.50 421.44 Z" fill="#134504" stroke="rgba(255,255,255,0.25)" stroke-width="0.4"/>
<path d="M272.83 410.59 A66.50 36.20 0 0 1 153.50 388.60 L153.50 404.80 A66.50 37.70 0 0 0 272.83 427.70 Z" fill="url(#g31)"/>
<path d="M220.00 388.60 L220.00 352.40 A66.50 36.20 0 0 1 246.68 355.44 Z" fill="#7570b8" stroke="rgba(255,255,255,0.55)" stroke-width="0.5" stroke-linejoin="round"/>
<path d="M220.00 388.60 L183.32 358.41 A66.50 36.20 0 0 1 220.00 352.40 Z" fill="#666666" stroke="rgba(255,255,255,0.55)" stroke-width="0.5" stroke-linejoin="round"/>
<path d="M220.00 388.60 L169.32 365.16 A66.50 36.20 0 0 1 183.32 358.41 Z" fill="#b0770e" stroke="rgba(255,255,255,0.55)" stroke-width="0.5" stroke-linejoin="round"/>
<path d="M220.00 388.60 L246.68 355.44 A66.50 36.20 0 0 1 284.00 398.44 Z" fill="#ff2090" stroke="rgba(255,255,255,0.55)" stroke-width="0.5" stroke-linejoin="round"/>
<path d="M220.00 388.60 L272.83 410.59 A66.50 36.20 0 1 1 169.32 365.16 Z" fill="#fbab0a" stroke="rgba(255,255,255,0.55)" stroke-width="0.5" stroke-linejoin="round"/>
<path d="M235.50 393.00 L299.50 402.84 A66.50 36.20 0 0 1 288.33 414.99 Z" fill="#2ea50a" stroke="rgba(255,255,255,0.55)" stroke-width="0.5" stroke-linejoin="round"/>
<text class="s" x="197.0" y="348.3" font-size="6.4" fill="#1a1a1a">9.3%</text>
<text class="s" x="234.3" y="348.3" font-size="6.4" fill="#1a1a1a">6.57%</text>
<text class="s" x="162.5" y="357.6" font-size="6.4" fill="#1a1a1a">4.49%</text>
<text class="s" x="296.5" y="370.4" font-size="6.4" fill="#1a1a1a">22.81%</text>
<text class="s" x="309.3" y="435.4" font-size="6.4" fill="#1a1a1a">6.01%</text>
<text class="s" x="163.5" y="444.3" font-size="6.4" fill="#1a1a1a">50.82%</text>
<rect x="327.4" y="337.6" width="76.8" height="15.3" fill="#a79ab6" opacity="0.75" rx="0.8"/>
<rect x="327.0" y="336.6" width="76.8" height="15.3" fill="#fff" stroke="#cdb0de" stroke-width="1" rx="0.8"/>
<text class="n" transform="translate(328.5 346.6) scale(0.900 1)" font-size="6.8" style="text-anchor:start" font-weight="bold" fill="#111">LFP Battery（100%SOC）</text>
<path d="M327.60 362.60 L401.50 362.60 L401.50 457.60 L327.60 457.60 L327.60 402.30 L303.60 402.30 L327.60 378.60Z" fill="none" stroke="#999" stroke-width="2.1" opacity="0.35" stroke-linejoin="round"/>
<path d="M327.60 362.60 L401.50 362.60 L401.50 457.60 L327.60 457.60 L327.60 402.30 L303.60 402.30 L327.60 378.60Z" fill="#fff" stroke="#333" stroke-width="1.15" stroke-linejoin="round"/>
<rect x="330.00" y="364.70" width="69.40" height="12.86" fill="#f0f0f0" stroke="#fafafa" stroke-width="0.5"/>
<text class="s" x="347.2" y="373.2" font-size="6.8" fill="#3a3a3a">C<tspan dy="1.1" font-size="72%">4</tspan><tspan dy="-1.1">H</tspan><tspan dy="1.1" font-size="72%">6</tspan></text>
<text class="n" transform="translate(381.9 373.3) scale(0.880 1)" font-size="6.15" fill="#222">2.57%</text>
<rect x="330.00" y="377.56" width="69.40" height="12.86" fill="#dedede" stroke="#fafafa" stroke-width="0.5"/>
<text class="s" x="347.2" y="386.0" font-size="6.8" fill="#3a3a3a">C<tspan dy="1.1" font-size="72%">2</tspan><tspan dy="-1.1">H</tspan><tspan dy="1.1" font-size="72%">6</tspan></text>
<text class="n" transform="translate(381.9 386.1) scale(0.880 1)" font-size="6.15" fill="#222">2.40%</text>
<rect x="330.00" y="390.41" width="69.40" height="12.86" fill="#f0f0f0" stroke="#fafafa" stroke-width="0.5"/>
<text class="s" x="347.2" y="398.9" font-size="6.8" fill="#3a3a3a">C<tspan dy="1.1" font-size="72%">3</tspan><tspan dy="-1.1">H</tspan><tspan dy="1.1" font-size="72%">4</tspan></text>
<text class="n" transform="translate(381.9 399.0) scale(0.880 1)" font-size="6.15" fill="#222">0.51%</text>
<rect x="330.00" y="403.27" width="69.40" height="12.86" fill="#dedede" stroke="#fafafa" stroke-width="0.5"/>
<text class="s" x="347.2" y="411.7" font-size="6.8" fill="#3a3a3a">C<tspan dy="1.1" font-size="72%">4</tspan><tspan dy="-1.1">H</tspan><tspan dy="1.1" font-size="72%">8</tspan></text>
<text class="n" transform="translate(381.9 411.9) scale(0.880 1)" font-size="6.15" fill="#222">0.55%</text>
<rect x="330.00" y="416.13" width="69.40" height="12.86" fill="#f0f0f0" stroke="#fafafa" stroke-width="0.5"/>
<text class="s" x="347.2" y="424.6" font-size="6.8" fill="#3a3a3a">C<tspan dy="1.1" font-size="72%">3</tspan><tspan dy="-1.1">H</tspan><tspan dy="1.1" font-size="72%">8</tspan></text>
<text class="n" transform="translate(381.9 424.7) scale(0.880 1)" font-size="6.15" fill="#222">0.39%</text>
<rect x="330.00" y="428.99" width="69.40" height="12.86" fill="#dedede" stroke="#fafafa" stroke-width="0.5"/>
<text class="s" x="347.2" y="437.5" font-size="6.8" fill="#3a3a3a">C<tspan dy="1.1" font-size="72%">4</tspan><tspan dy="-1.1">H</tspan><tspan dy="1.1" font-size="72%">6</tspan></text>
<text class="n" transform="translate(381.9 437.6) scale(0.880 1)" font-size="6.15" fill="#222">0.16%</text>
<rect x="330.00" y="441.84" width="69.40" height="12.86" fill="#f0f0f0" stroke="#fafafa" stroke-width="0.5"/>
<text class="s" x="347.2" y="450.3" font-size="6.8" fill="#3a3a3a">C<tspan dy="1.1" font-size="72%">2</tspan><tspan dy="-1.1">H</tspan><tspan dy="1.1" font-size="72%">2</tspan></text>
<text class="n" transform="translate(381.9 450.4) scale(0.880 1)" font-size="6.15" fill="#222">0.05%</text>
<line x1="364.40" y1="364.70" x2="364.40" y2="454.70" stroke="#fafafa" stroke-width="0.6"/>
<rect x="330.00" y="364.70" width="69.40" height="90.00" fill="none" stroke="#cfcfcf" stroke-width="0.4"/>
<text class="s" x="276.4" y="475.4" font-size="10.8" font-weight="bold" fill="#111">(a)</text>
</svg>
</body></html>
